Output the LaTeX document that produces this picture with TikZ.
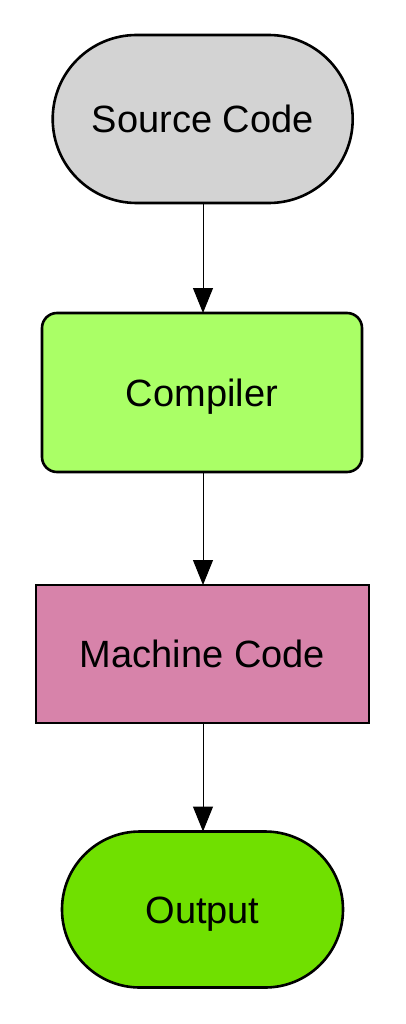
\documentclass[tikz,border=0pt]{standalone}
\usepackage{fontspec}
\setmainfont{Liberation Sans}
\usetikzlibrary{arrows.meta}
\definecolor{srcgray}{RGB}{211,211,211}
\definecolor{compgreen}{RGB}{170,255,102}
\definecolor{machpink}{RGB}{215,131,170}
\definecolor{outgreen}{RGB}{112,224,0}
\tikzset{
  box/.style={draw=black, line width=2.6pt, inner sep=0pt, outer sep=0pt, font=\fontsize{38}{45}\selectfont, text height=27.2pt, text depth=0pt},
  conn/.style={line width=1pt, -{Triangle[length=25pt,width=20pt]}}
}
\begin{document}
\begin{tikzpicture}[x=1pt,y=-1pt]
\useasboundingbox (0,0) rectangle (405,1024);
\node[box, fill=srcgray, minimum width=300pt, minimum height=168pt, rounded corners=83.9pt] (src) at (202.7,119) {Source Code};
\node[box, fill=compgreen, minimum width=320pt, minimum height=159pt, rounded corners=15pt] (comp) at (202,392.5) {Compiler};
\node[box, fill=machpink, minimum width=333pt, minimum height=138pt] (mach) at (202.4,654) {Machine Code};
\node[box, fill=outgreen, minimum width=281pt, minimum height=156pt, rounded corners=77.9pt] (out) at (202.5,909.5) {Output};
\draw[conn] (src.south -| 203,0) -- (comp.north -| 203,0);
\draw[conn] (comp.south -| 203,0) -- (mach.north -| 203,0);
\draw[conn] (mach.south -| 203,0) -- (out.north -| 203,0);
\end{tikzpicture}
\end{document}
